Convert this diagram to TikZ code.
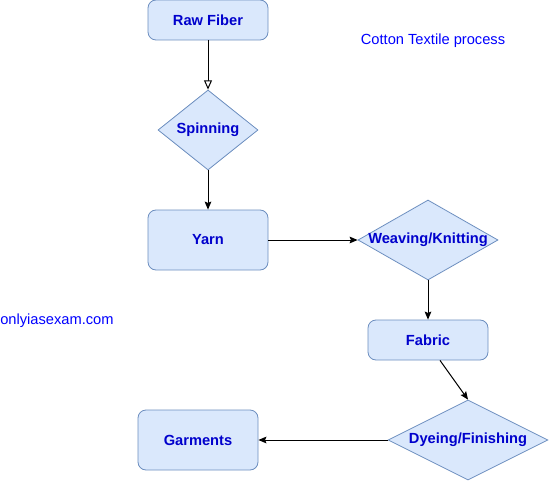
\documentclass[tikz,border=0pt]{standalone}
\usepackage{fontspec}
\setmainfont{Liberation Sans}
\usetikzlibrary{shapes.geometric,arrows.meta,calc}
\definecolor{boxfill}{HTML}{DAE8FC}
\definecolor{boxline}{HTML}{6C8EBF}
\definecolor{txtblue}{HTML}{0000CC}
\begin{document}
\begin{tikzpicture}[x=0.75pt,y=-0.75pt,
  every node/.style={font=\fontsize{11}{13}\selectfont},
  rbox/.style={draw=boxline,fill=boxfill,rounded corners=6pt,line width=0.6pt,inner sep=0pt,text=txtblue,font=\fontsize{11}{13}\selectfont\bfseries},
  dia/.style={draw=boxline,fill=boxfill,diamond,line width=0.6pt,inner sep=0pt},
  dlabel/.style={text=txtblue,inner sep=0pt,font=\fontsize{11}{13}\selectfont\bfseries},
  arr/.style={line width=0.75pt,-{Stealth[length=6pt,width=5pt,inset=1pt]}},
  oarr/.style={line width=0.75pt,-{Triangle[open,length=7pt,width=6pt,fill=white]}},
  plain/.style={text=blue,font=\fontsize{11}{13}\selectfont}]
\useasboundingbox (0,0) rectangle (549,481);
\node[rbox,minimum width=90pt,minimum height=30pt] (raw) at (208,20) {Raw Fiber};
\node[dia,minimum width=75pt,minimum height=60pt] (spin) at (208,130) {};
\node[dlabel] (spinl) at (208,130) {Spinning};
\node[rbox,minimum width=90pt,minimum height=45pt] (yarn) at (208,240) {Yarn};
\node[dia,minimum width=105pt,minimum height=60pt] (weave) at (428,240) {};
\node[dlabel] (weavel) at (428,240) {Weaving/Knitting};
\node[rbox,minimum width=90pt,minimum height=30pt] (fabric) at (428,340) {Fabric};
\node[dia,minimum width=120pt,minimum height=60pt] (dye) at (468,440) {};
\node[dlabel] (dyel) at (468,440) {Dyeing/Finishing};
\node[rbox,minimum width=90pt,minimum height=45pt] (garm) at (198,440) {Garments};
\node[plain] (title) at (433,41) {Cotton Textile process};
\node[plain,anchor=west,inner sep=0pt] (site) at (0,321) {onlyiasexam.com};
\draw[oarr] (raw.south) -- (spin.north);
\draw[arr] (spin.south) -- (yarn.north);
\draw[arr] (yarn.east) -- (weave.west);
\draw[arr] (weave.south) -- (fabric.north);
\draw[arr] ($(fabric.south)+(12,0)$) -- (dye.north);
\draw[arr] (dye.west) -- (garm.east);
\end{tikzpicture}
\end{document}
